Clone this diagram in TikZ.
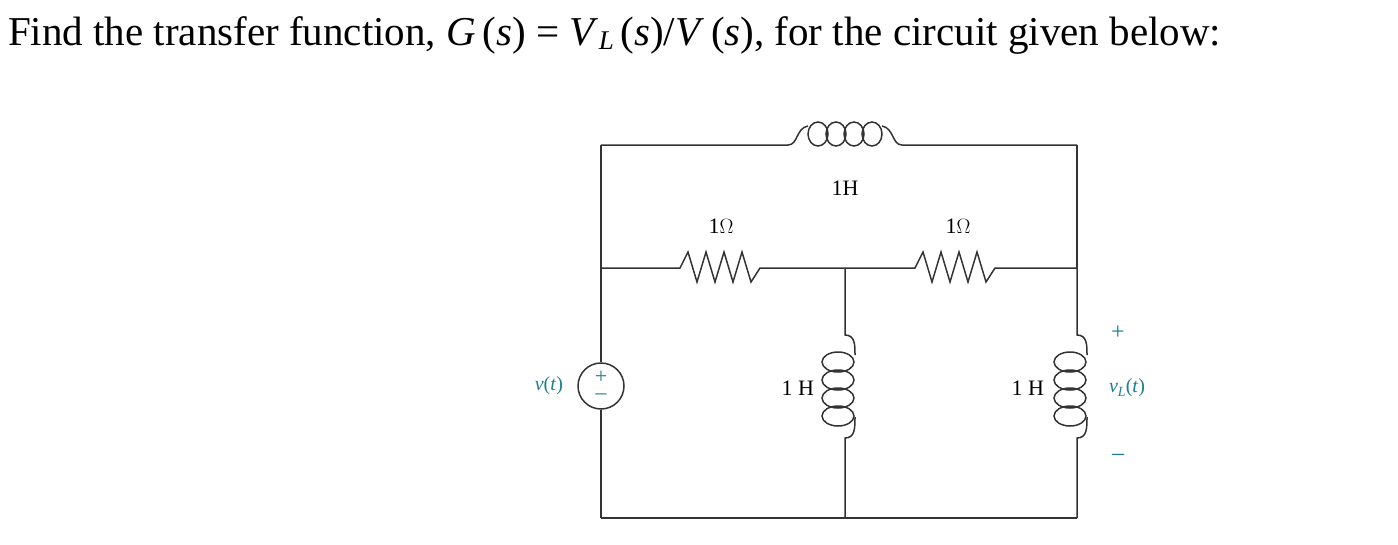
\documentclass[tikz,border=0pt]{standalone}
\usepackage{fontspec}
\setmainfont{Liberation Serif}
\definecolor{teal2}{RGB}{30,125,145}
\begin{document}
\begin{tikzpicture}[x=1pt,y=-1pt,line width=1.5pt,
  w/.style={draw=black!80},
  lbl/.style={font=\fontsize{22}{24}\selectfont},
  tl/.style={text=teal2,font=\fontsize{20}{22}\selectfont}]
\useasboundingbox (0,0) rectangle (1398,544);
\node[anchor=west,font=\fontsize{41}{46}\selectfont] (title) at (4,35) {Find the transfer function, \textit{G}\,(\textit{s}) = \textit{V}\raisebox{-0.25ex}{\fontsize{27}{27}\selectfont\textit{L}}\,(\textit{s})/\textit{V}\,(\textit{s}), for the circuit given below:};
% nodes
\coordinate (TL) at (601,145); \coordinate (TR) at (1077,145);
\coordinate (ML) at (601,268); \coordinate (MM) at (845,268); \coordinate (MR) at (1077,268);
\coordinate (BL) at (601,518); \coordinate (BM) at (845,518); \coordinate (BR) at (1077,518);
\node[draw=black!80,circle,minimum size=46pt,inner sep=0pt] (src) at (601,386) {};
\node[text=teal2,font=\fontsize{22}{22}\selectfont,inner sep=0pt] at (601,377) {+};
\node[text=teal2,font=\fontsize{22}{22}\selectfont,inner sep=0pt] at (601,397) {--};
\node[tl,anchor=east] (vt) at (567,386) {\textit{v}(\textit{t})};
% top inductor
\draw[w] (TL) -- (788,145) .. controls (798,145) and (796,128) .. (808,126);
\foreach \i in {0,1,2,3} \draw[w] (818+\i*18,134) ellipse (10 and 12);
\draw[w] (882,126) .. controls (894,128) and (892,145) .. (902,145) -- (TR);
\node[lbl] (l1) at (845,188) {1H};
% left vertical
\draw[w] (TL) -- (src.north); \draw[w] (src.south) -- (BL);
\draw[w] (TR) -- (MR);
% resistors
\draw[w] (ML) -- (680,268) -- (688,252) -- (697,282) -- (706,252) -- (715,282) -- (724,252) -- (733,282) -- (742,252) -- (751,282) -- (760,268) -- (MM);
\node[lbl] (r1) at (721,226) {1$\Omega$};
\draw[w] (MM) -- (915,268) -- (923,252) -- (932,282) -- (941,252) -- (950,282) -- (959,252) -- (968,282) -- (977,252) -- (986,282) -- (995,268) -- (MR);
\node[lbl] (r2) at (958,226) {1$\Omega$};
% middle inductor
\draw[w] (MM) -- (845,335) .. controls (855,335) and (855,345) .. (855,355);
\foreach \i in {0,1,2,3} \draw[w] (838,362+\i*18) ellipse (16 and 10);
\draw[w] (855,417) .. controls (855,428) and (855,438) .. (845,438) -- (BM);
\node[lbl,anchor=east] (l2) at (818,388) {1 H};
% right inductor
\draw[w] (MR) -- (1077,335) .. controls (1087,335) and (1087,345) .. (1087,355);
\foreach \i in {0,1,2,3} \draw[w] (1070,362+\i*18) ellipse (16 and 10);
\draw[w] (1087,417) .. controls (1087,428) and (1087,438) .. (1077,438) -- (BR);
\node[lbl,anchor=east] (l3) at (1048,388) {1 H};
\node[tl,font=\fontsize{24}{24}\selectfont] (pl) at (1118,333) {+};
\node[tl,font=\fontsize{24}{24}\selectfont] (mi) at (1118,457) {--};
\node[tl,anchor=west] (vl) at (1105,388) {\textit{v}\raisebox{-0.4ex}{\fontsize{14}{14}\selectfont\textit{L}}(\textit{t})};
% bottom
\draw[w] (BL) -- (BR);
\end{tikzpicture}
\end{document}
